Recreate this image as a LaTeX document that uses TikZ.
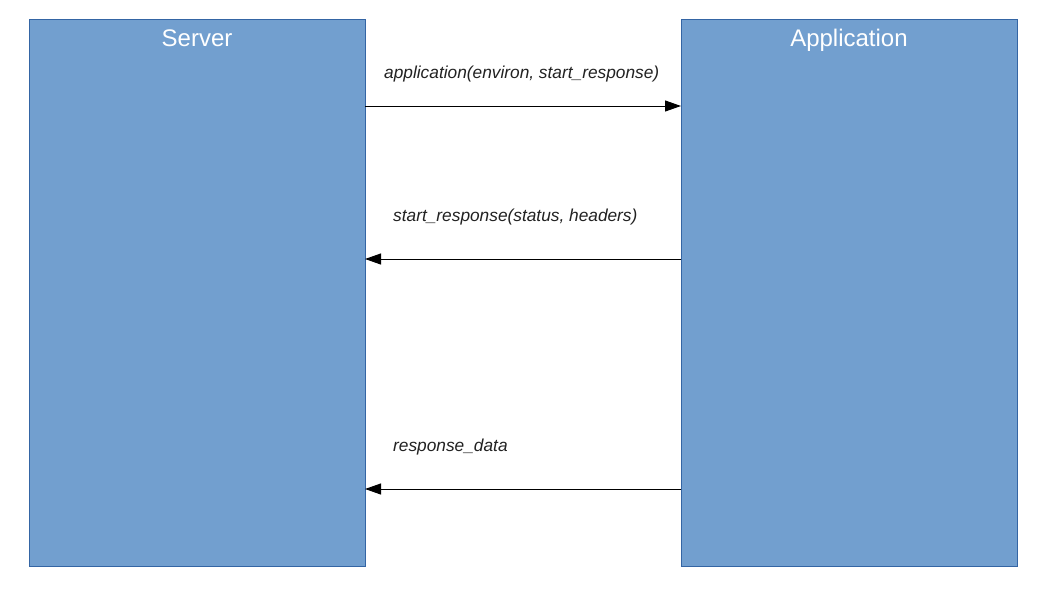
\documentclass[tikz,border=0pt]{standalone}
\usepackage{fontspec}
\setmainfont{Liberation Sans}
\usetikzlibrary{arrows.meta}
\definecolor{boxfill}{HTML}{729FCF}
\definecolor{boxline}{HTML}{3465A4}
\definecolor{labeltext}{HTML}{222222}
\tikzset{
  actor/.style={draw=boxline, fill=boxfill, line width=0.8pt},
  actortitle/.style={text=white, font=\fontsize{24}{27}\selectfont, anchor=base, inner sep=0pt},
  msg/.style={draw=black, line width=1pt, -{Triangle[length=16pt,width=11pt]}},
  msglabel/.style={text=labeltext, font=\fontsize{17.3}{20}\selectfont\itshape, anchor=base west, inner sep=0pt},
}
\begin{document}
\begin{tikzpicture}[x=1pt,y=-1pt]
\useasboundingbox (0,0) rectangle (1058,595);
\fill[white] (0,0) rectangle (1058,595);
\draw[actor] (29,19) rectangle (365,566);
\draw[actor] (681,19) rectangle (1017,566);
\node[actortitle] (server) at (197,46.5) {Server};
\node[actortitle] (app) at (849,46.5) {Application};
\coordinate (s1) at (365,106);
\coordinate (a1) at (681,106);
\coordinate (s2) at (365,259);
\coordinate (a2) at (681,259);
\coordinate (s3) at (365,489);
\coordinate (a3) at (681,489);
\draw[msg] (s1) -- (a1);
\draw[msg] (a2) -- (s2);
\draw[msg] (a3) -- (s3);
\node[msglabel] (l1) at (384,78) {application(environ, start\_response)};
\node[msglabel] (l2) at (393,221) {start\_response(status, headers)};
\node[msglabel] (l3) at (393,451) {response\_data};
\end{tikzpicture}
\end{document}
